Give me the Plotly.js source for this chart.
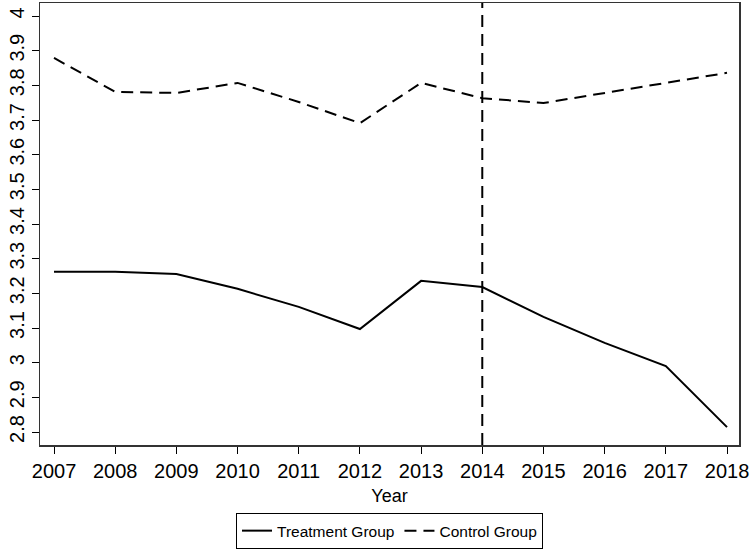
<!DOCTYPE html>
<html>
<head>
<meta charset="utf-8">
<script src="https://cdn.plot.ly/plotly-3.0.1.min.js"></script>
<style>html,body{margin:0;padding:0;background:#fff;}#chart{width:754px;height:554px;}</style>
</head>
<body>
<div id="chart"></div>
<script>
const years = [2007, 2008, 2009, 2010, 2011, 2012, 2013, 2014, 2015, 2016, 2017, 2018];
const treatment = [3.262, 3.262, 3.256, 3.213, 3.161, 3.097, 3.236, 3.218, 3.132, 3.057, 2.990, 2.814];
const control = [3.879, 3.781, 3.778, 3.807, 3.752, 3.691, 3.807, 3.763, 3.749, 3.778, 3.807, 3.836];
const yTickVals = [2.8, 2.9, 3, 3.1, 3.2, 3.3, 3.4, 3.5, 3.6, 3.7, 3.8, 3.9, 4];
const yTickText = ["2.8", "2.9", "3", "3.1", "3.2", "3.3", "3.4", "3.5", "3.6", "3.7", "3.8", "3.9", "4"];
const policyYear = 2014;

const font = "Liberation Sans, Arial, sans-serif";

const traces = [
  {x: years, y: treatment, name: "Treatment Group", type: "scatter", mode: "lines",
   line: {color: "#000", width: 2}},
  {x: years, y: control, name: "Control Group", type: "scatter", mode: "lines",
   line: {color: "#000", width: 2, dash: "12px,7px"}}
];

const layout = {
  width: 754, height: 554,
  margin: {l: 40, r: 15, t: 3, b: 109},
  paper_bgcolor: "#fff", plot_bgcolor: "#fff",
  font: {family: font, color: "#000"},
  showlegend: true,
  legend: {orientation: "h", x: 0.5, xanchor: "center", y: -0.154, yanchor: "top",
           bordercolor: "#000", borderwidth: 1, font: {size: 15.5, family: font},
           bgcolor: "#fff"},
  xaxis: {
    range: [2006.771, 2018.196], tickvals: years, ticktext: years.map(String),
    showgrid: false, zeroline: false,
    showline: true, mirror: true, linecolor: "#333", linewidth: 1.5,
    ticks: "outside", ticklen: 7, tickcolor: "#000", tickwidth: 1,
    tickfont: {size: 20, family: font},
    title: {text: "Year", font: {size: 18, family: font}, standoff: 9}
  },
  yaxis: {
    range: [2.7625, 4.0375], tickvals: yTickVals, ticktext: yTickText,
    tickangle: -90,
    showgrid: false, zeroline: false,
    showline: true, mirror: true, linecolor: "#333", linewidth: 1.5,
    ticks: "outside", ticklen: 7, tickcolor: "#000", tickwidth: 1,
    tickfont: {size: 20, family: font}
  },
  shapes: [
    {type: "line", xref: "x", yref: "paper", x0: policyYear, x1: policyYear, y0: 0, y1: 1,
     line: {color: "#000", width: 2, dash: "12px,7px"}}
  ]
};

Plotly.newPlot("chart", traces, layout, {displayModeBar: false, staticPlot: true});
</script>
</body>
</html>
